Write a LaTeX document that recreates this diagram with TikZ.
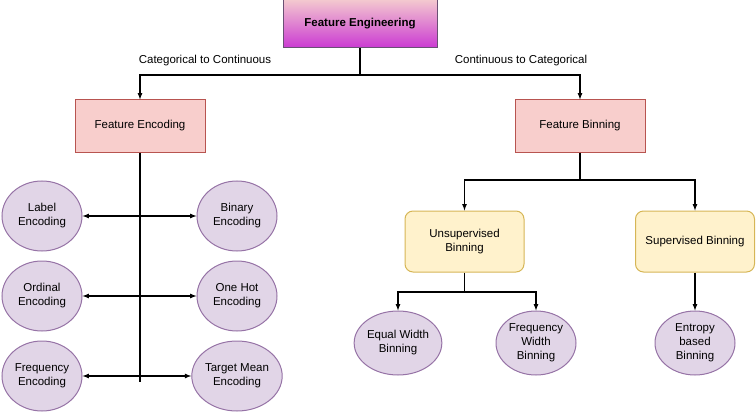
\documentclass[tikz,border=0pt]{standalone}
\usepackage{fontspec}
\setmainfont{Liberation Sans}
\usetikzlibrary{shapes.geometric}
\definecolor{redF}{HTML}{F8CECC}\definecolor{redD}{HTML}{B85450}
\definecolor{yelF}{HTML}{FFF2CC}\definecolor{yelD}{HTML}{D6B656}
\definecolor{purF}{HTML}{E1D5E7}\definecolor{purD}{HTML}{9673A6}
\begin{document}
\begin{tikzpicture}[x=1pt,y=-1pt,font=\fontsize{11.5}{14}\selectfont,
 red/.style={draw=redD,fill=redF,line width=1pt,minimum width=130pt,minimum height=52pt},
 yel/.style={draw=yelD,fill=yelF,line width=1pt,rounded corners=8pt,minimum width=119pt,minimum height=61pt,align=center},
 ell/.style={ellipse,draw=purD,fill=purF,line width=1pt,minimum width=80pt,minimum height=70pt,align=center,inner sep=0pt},
 ell2/.style={ell,minimum height=64pt},
 arr/.style={line width=1.2pt,-latex},
 ln/.style={line width=1.2pt}]
\useasboundingbox (0,0) rectangle (756,412);
\node[draw=purD!70!black,line width=1pt,top color=purF!40!pink,bottom color=magenta!50!purD,minimum width=154pt,minimum height=48pt,font=\fontsize{11.5}{14}\selectfont\bfseries] (fe) at (360,24) {Feature Engineering};
\node[red] (enc) at (140,126) {Feature Encoding};
\node[red] (bin) at (580,126) {Feature Binning};
\coordinate (j1) at (360,75);
\draw[ln] (fe.south) -- (j1);
\draw[arr] (j1) -| (enc.north);
\draw[arr] (j1) -| (bin.north);
\node at (205,61) {Categorical to Continuous};
\node at (521,61) {Continuous to Categorical};
% encoding
\node[ell] (le) at (42,216) {Label\\Encoding};
\node[ell] (be) at (237,216) {Binary\\Encoding};
\node[ell] (oe) at (42,296) {Ordinal\\Encoding};
\node[ell] (oh) at (237,296) {One Hot\\Encoding};
\node[ell] (fq) at (42,376) {Frequency\\Encoding};
\node[ell] (tm) at (237,376) {Target Mean\\Encoding};
\coordinate (encend) at (140,382);
\draw[ln] (enc.south) -- (encend);
\draw[line width=1.2pt,latex-latex] (le) -- (be);
\draw[line width=1.2pt,latex-latex] (oe) -- (oh);
\draw[line width=1.2pt,latex-latex] (fq) -- (tm);
% binning
\node[yel] (ub) at (464.5,241.5) {Unsupervised\\Binning};
\node[yel] (sb) at (695,241.5) {Supervised Binning};
\coordinate (j2) at (580,180);
\draw[ln] (bin.south) -- (j2);
\draw[arr] (j2) -| (ub.north);
\draw[arr] (j2) -| (sb.north);
\node[ell2] (ew) at (398,343) {Equal Width\\Binning};
\node[ell2] (fw) at (536,343) {Frequency\\Width\\Binning};
\node[ell2] (eb) at (695,343) {Entropy\\based\\Binning};
\coordinate (j3) at (464.5,292);
\draw[ln] (ub.south) -- (j3);
\draw[arr] (j3) -| (ew.north);
\draw[arr] (j3) -| (fw.north);
\draw[arr] (sb.south) -- (eb.north);
\end{tikzpicture}
\end{document}
